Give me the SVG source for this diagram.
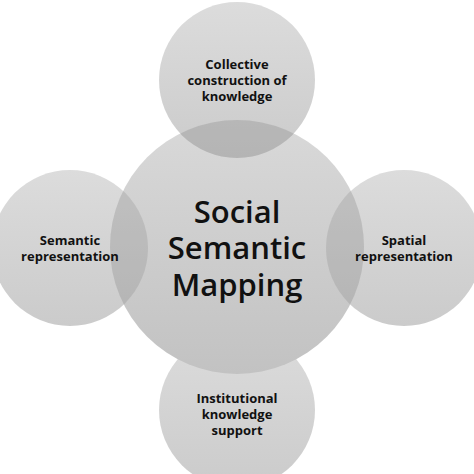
<svg xmlns="http://www.w3.org/2000/svg" width="474" height="474" viewBox="0 0 474 474">
  <style>
    .lbl { font-family: "Open Sans", "Liberation Sans", sans-serif; font-weight: 700; font-size: 13px; fill: #111; text-anchor: middle; }
    .main { font-family: "Open Sans", "Liberation Sans", sans-serif; font-weight: 600; font-size: 31px; fill: #111; text-anchor: middle; }
    .lens { fill: #7a7a7a; fill-opacity: 0.28; }
  </style>
  <defs>
    <linearGradient id="gSmall" x1="0" y1="0" x2="0" y2="1">
      <stop offset="0" stop-color="#dcdcdc"/>
      <stop offset="1" stop-color="#cbcbcb"/>
    </linearGradient>
    <linearGradient id="gMain" x1="0" y1="0" x2="0" y2="1">
      <stop offset="0" stop-color="#d9d9d9"/>
      <stop offset="1" stop-color="#c2c2c2"/>
    </linearGradient>
    <clipPath id="clipMain">
      <circle cx="237" cy="247" r="127"/>
    </clipPath>
  </defs>
  <rect width="474" height="474" fill="#ffffff"/>

  <g id="node-bottom">
    <circle cx="237" cy="410" r="78" fill="url(#gSmall)"/>
  </g>
  <g id="node-center">
    <circle cx="237" cy="247" r="127" fill="url(#gMain)"/>
  </g>
  <g id="node-top">
    <circle cx="237" cy="80" r="78" fill="url(#gSmall)"/>
  </g>
  <g id="node-left">
    <circle cx="70" cy="248" r="78" fill="url(#gSmall)"/>
  </g>
  <g id="node-right">
    <circle cx="404" cy="248" r="78" fill="url(#gSmall)"/>
  </g>

  <g id="connectors">
    <g clip-path="url(#clipMain)">
      <circle class="lens" cx="237" cy="80" r="78"/>
      <circle class="lens" cx="70" cy="248" r="78"/>
      <circle class="lens" cx="404" cy="248" r="78"/>
    </g>
  </g>

  <g id="labels">
    <text class="lbl" x="237" y="69">Collective</text>
    <text class="lbl" x="237" y="85">construction of</text>
    <text class="lbl" x="237" y="101">knowledge</text>

    <text class="lbl" x="70" y="245">Semantic</text>
    <text class="lbl" x="70" y="261">representation</text>

    <text class="lbl" x="404" y="245">Spatial</text>
    <text class="lbl" x="404" y="261">representation</text>

    <text class="lbl" x="237" y="403">Institutional</text>
    <text class="lbl" x="237" y="419">knowledge</text>
    <text class="lbl" x="237" y="435">support</text>

    <text class="main" x="237" y="223">Social</text>
    <text class="main" x="237" y="259">Semantic</text>
    <text class="main" x="237" y="296">Mapping</text>
  </g>
</svg>
